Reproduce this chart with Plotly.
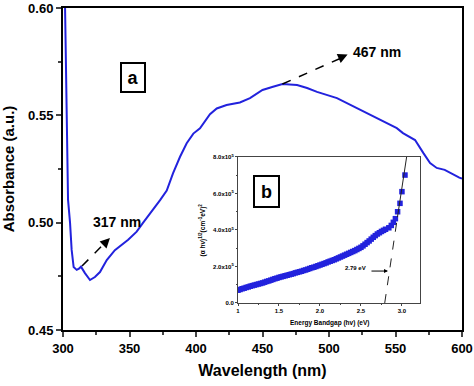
import plotly.graph_objects as go

# Main UV-Vis spectrum
wavelength = [301.5, 303.8, 305.3, 306.5, 308.0, 310.3, 312.0, 313.5, 316.5, 320.3, 324.0, 327.8,
              332.9, 339.0, 349.0, 355.4, 360.0, 367.7, 373.0, 378.0, 382.7, 388.0, 393.0,
              398.0, 403.0, 410.5, 415.6, 423.0, 433.0, 440.6, 450.0, 457.9, 465.0, 476.0,
              483.5, 491.0, 506.0, 521.0, 536.0, 551.0, 555.6, 561.0, 564.7, 571.0, 576.0,
              581.0, 587.0, 598.0, 600.0]
absorbance = [0.602, 0.5106, 0.4999, 0.4873, 0.4793, 0.4780, 0.4786, 0.4795, 0.4765, 0.4733, 0.4747, 0.4770,
              0.4826, 0.4872, 0.4920, 0.4958, 0.4998, 0.5059, 0.5105, 0.5150, 0.5230, 0.5307, 0.5370,
              0.5415, 0.5440, 0.5505, 0.5532, 0.5548, 0.5560, 0.5580, 0.5618, 0.5633, 0.5646, 0.5641,
              0.5627, 0.5609, 0.5580, 0.5534, 0.5487, 0.5440, 0.5417, 0.5400, 0.5385, 0.5324, 0.5278,
              0.5255, 0.5246, 0.5210, 0.5205]

# Inset Tauc plot (photon energy in eV, (alpha h nu) values in units of 1e5)
energy = [1.000, 1.025, 1.050, 1.075, 1.100, 1.125, 1.150, 1.175, 1.200, 1.225, 1.250, 1.275,
          1.300, 1.325, 1.350, 1.375, 1.400, 1.425, 1.450, 1.475, 1.500, 1.525, 1.550, 1.575,
          1.600, 1.625, 1.650, 1.675, 1.700, 1.725, 1.750, 1.775, 1.800, 1.825, 1.850, 1.875,
          1.900, 1.925, 1.950, 1.975, 2.000, 2.025, 2.050, 2.075, 2.100, 2.125, 2.150, 2.175,
          2.200, 2.225, 2.250, 2.275, 2.300, 2.325, 2.350, 2.375, 2.400, 2.425, 2.450, 2.475,
          2.500, 2.525, 2.550, 2.575, 2.600, 2.625, 2.650, 2.675, 2.700, 2.725, 2.750, 2.775,
          2.800, 2.840, 2.870, 2.895, 2.920, 2.947, 2.976, 3.000, 3.037]
tauc = [0.70, 0.74, 0.78, 0.81, 0.85, 0.88, 0.92, 0.95, 0.98, 1.01, 1.04, 1.07,
        1.10, 1.14, 1.18, 1.21, 1.25, 1.29, 1.33, 1.36, 1.40, 1.43, 1.46, 1.49,
        1.52, 1.55, 1.58, 1.61, 1.65, 1.68, 1.71, 1.74, 1.78, 1.81, 1.85, 1.89,
        1.93, 1.96, 2.00, 2.04, 2.08, 2.12, 2.16, 2.20, 2.25, 2.29, 2.33, 2.37,
        2.42, 2.47, 2.52, 2.57, 2.62, 2.67, 2.72, 2.77, 2.82, 2.87, 2.93, 2.99,
        3.05, 3.13, 3.22, 3.31, 3.40, 3.50, 3.60, 3.69, 3.78, 3.85, 3.92, 3.98,
        4.04, 4.12, 4.25, 4.42, 4.62, 5.00, 5.46, 6.10, 7.01]
tauc = [v * 1e5 for v in tauc]
fit_dash_x = [2.79, 2.945]
fit_dash_y = [0.0, 4.7e5]
fit_solid_x = [2.945, 3.057]
fit_solid_y = [4.7e5, 8.0e5]

inset_yticks = [0, 2e5, 4e5, 6e5, 8e5]
inset_ytext = ["0.0", "2.0x10<sup>5</sup>", "4.0x10<sup>5</sup>", "6.0x10<sup>5</sup>", "8.0x10<sup>5</sup>"]
inset_xticks = [1, 1.5, 2.0, 2.5, 3.0]
inset_xtext = ["1", "1.5", "2.0", "2.5", "3.0"]

FONT = "Liberation Sans, Arial, sans-serif"
BLUE = "#2222dd"

fig = go.Figure()
fig.add_trace(go.Scatter(x=wavelength, y=absorbance, mode="lines",
                         line=dict(color=BLUE, width=2), xaxis="x", yaxis="y", showlegend=False))
fig.add_trace(go.Scatter(x=energy, y=tauc, mode="markers",
                         marker=dict(symbol="square", size=5.5, color=BLUE, line=dict(width=0)),
                         xaxis="x2", yaxis="y2", showlegend=False))
fig.add_trace(go.Scatter(x=fit_dash_x, y=fit_dash_y, mode="lines",
                         line=dict(color="#222", width=1, dash="dash"),
                         xaxis="x2", yaxis="y2", showlegend=False))
fig.add_trace(go.Scatter(x=fit_solid_x, y=fit_solid_y, mode="lines",
                         line=dict(color="#222", width=1),
                         xaxis="x2", yaxis="y2", showlegend=False))

inset_x = [0.4386, 0.8947]
inset_y = [0.0839, 0.5373]

fig.update_layout(
    width=474, height=386,
    margin=dict(l=63, r=12, t=8, b=56),
    paper_bgcolor="white", plot_bgcolor="white",
    font=dict(family=FONT, color="black"),
    xaxis=dict(range=[300, 600], domain=[0, 1], tickvals=[300, 350, 400, 450, 500, 550, 600],
               automargin=False,
               ticks="outside", ticklen=5, tickwidth=2, showline=True, linewidth=2, linecolor="black",
               mirror=True, showgrid=False, zeroline=False,
               tickfont=dict(size=13, weight="bold"),
               minor=dict(dtick=25, ticks="outside", ticklen=3, tickwidth=1.5),
               title=dict(text="Wavelength (nm)", font=dict(size=16, weight="bold"), standoff=10)),
    yaxis=dict(range=[0.45, 0.60], domain=[0, 1], tickvals=[0.45, 0.50, 0.55, 0.60],
               tickformat=".2f", automargin=False,
               ticks="outside", ticklen=5, tickwidth=2, showline=True, linewidth=2, linecolor="black",
               mirror=True, showgrid=False, zeroline=False,
               tickfont=dict(size=13, weight="bold"),
               minor=dict(dtick=0.025, ticks="outside", ticklen=3, tickwidth=1.5),
               title=dict(text="Absorbance (a.u.)", font=dict(size=15, weight="bold"), standoff=10)),
    xaxis2=dict(range=[1, 3.22], domain=inset_x, anchor="y2", tickvals=inset_xticks, ticktext=inset_xtext,
                automargin=False,
                ticks="outside", ticklen=2, tickwidth=1, showline=True, linewidth=1, linecolor="#444",
                mirror=True, showgrid=False, zeroline=False,
                tickfont=dict(size=6, weight="bold"),
                minor=dict(dtick=0.25, ticks="outside", ticklen=1.5)),
    yaxis2=dict(range=[0, 8e5], domain=inset_y, anchor="x2", tickvals=inset_yticks, ticktext=inset_ytext,
                automargin=False,
                ticks="outside", ticklen=2, tickwidth=1, showline=True, linewidth=1, linecolor="#444",
                mirror=True, showgrid=False, zeroline=False,
                tickfont=dict(size=6, weight="bold"),
                minor=dict(dtick=1e5, ticks="outside", ticklen=1.5)),
)

# Dashed arrows in main plot
fig.add_shape(type="line", xref="x", yref="y", x0=465.0, y0=0.5646, x1=511.0, y1=0.5772,
              line=dict(color="black", width=1.5, dash="dash"))
fig.add_annotation(x=514.0, y=0.5783, xref="x", yref="y", ax=-9, ay=4, showarrow=True,
                   arrowhead=2, arrowsize=1.3, arrowwidth=1.5, arrowcolor="black", text="")
fig.add_annotation(x=516.5, y=0.5795, xref="x", yref="y", text="<b>467 nm</b>", showarrow=False,
                   xanchor="left", font=dict(size=14))

fig.add_shape(type="line", xref="x", yref="y", x0=314.3, y0=0.4798, x1=333.0, y1=0.4915,
              line=dict(color="black", width=1.5, dash="dash"))
fig.add_annotation(x=335.3, y=0.4928, xref="x", yref="y", ax=-7, ay=7, showarrow=True,
                   arrowhead=2, arrowsize=1.3, arrowwidth=1.5, arrowcolor="black", text="")
fig.add_annotation(x=340.6, y=0.5003, xref="x", yref="y", text="<b>317 nm</b>", showarrow=False,
                   font=dict(size=14))

# Panel labels
fig.add_annotation(x=0.1754, y=0.784, xref="paper", yref="paper", text="<b>a</b>", showarrow=False,
                   xanchor="center", yanchor="middle",
                   font=dict(size=18), bordercolor="black", borderwidth=2, borderpad=1,
                   width=20, height=25, bgcolor="white")
fig.add_annotation(x=0.51, y=0.430, xref="paper", yref="paper", text="<b>b</b>", showarrow=False,
                   xanchor="center", yanchor="middle",
                   font=dict(size=18), bordercolor="black", borderwidth=2, borderpad=1,
                   width=21, height=27, bgcolor="white")

# Inset annotations
fig.add_annotation(x=2.83, y=1.75e5, xref="x2", yref="y2", ax=2.61, ay=1.75e5, axref="x2", ayref="y2",
                   showarrow=True, arrowhead=2, arrowsize=0.8, arrowwidth=1, arrowcolor="black", text="")
fig.add_annotation(x=2.585, y=1.93e5, xref="x2", yref="y2", text="<b>2.79 eV</b>", showarrow=False,
                   xanchor="right", yanchor="middle", font=dict(size=6))
fig.add_annotation(x=0.6667, y=0.0217, xref="paper", yref="paper", text="<b>Energy Bandgap (hv) (eV)</b>",
                   xanchor="center", yanchor="middle", showarrow=False, font=dict(size=6.5))
fig.add_annotation(x=0.349, y=0.31, xref="paper", yref="paper",
                   text="<b>(α hν)<sup>1/2</sup>(cm<sup>-1</sup>eV)<sup>2</sup></b>",
                   xanchor="center", yanchor="middle",
                   showarrow=False, textangle=-90, font=dict(size=6.5))

fig.write_html("out.html")
